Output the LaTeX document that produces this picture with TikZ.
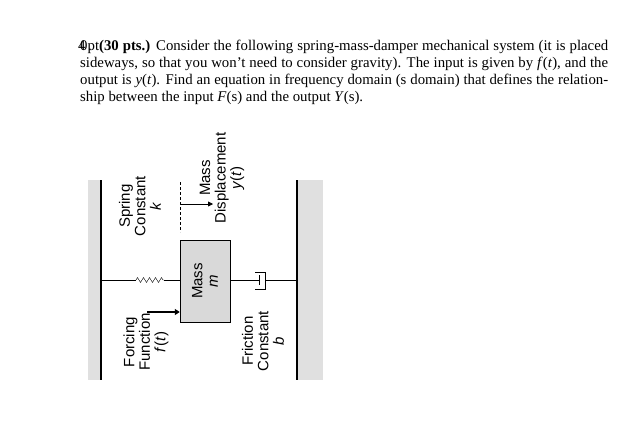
\documentclass[tikz,border=0pt]{standalone}
\usepackage{fontspec}
\setmainfont{Liberation Serif}
\newfontfamily\lab{Liberation Sans}
\usetikzlibrary{decorations.pathmorphing,arrows.meta}
\begin{document}
\begin{tikzpicture}[x=1pt,y=-1pt,
  lbl/.style={font=\lab\fontsize{15}{15.5}\selectfont,align=center,rotate=90,inner sep=0},
  wall/.style={fill=black!12,draw=none}]
\useasboundingbox (0,0) rectangle (642,426);
\node[anchor=north west,text width=528pt,align=justify,inner sep=0,font=\fontsize{14.8}{17}\selectfont\hyphenpenalty=10000\tolerance=9999] (q) at (80,40)
{\llap{4\,.\ \ }\textbf{(30 pts.)} Consider the following spring-mass-damper mechanical system (it is placed sideways, so that you won't need to consider gravity). The input is given by \textit{f}(\textit{t}), and the output is \textit{y}(\textit{t}). Find an equation in frequency domain (s domain) that defines the relationship between the input \textit{F}(s) and the output \textit{Y}(s).};
\fill[wall] (88,180) rectangle (101,380);
\fill[wall] (297,180) rectangle (323,380);
\draw[line width=1.2pt] (101,180) -- (101,380);
\draw[line width=1.2pt] (297,180) -- (297,380);
\node[draw,fill=black!15,minimum width=50pt,minimum height=82pt,inner sep=0] (m) at (205,281) {};
\node[lbl] (mt) at (m) {Mass\\\textit{m}};
\coordinate (s0) at (101,280);
\coordinate (s1) at (136,280);
\coordinate (s2) at (164,280);
\draw (s0) -- (s1);
\draw[decorate,decoration={zigzag,segment length=6pt,amplitude=2.5pt}] (s1) -- (s2);
\draw (s2) -- (m.west |- s2);
\coordinate (d1) at (259,280);
\draw (m.east |- d1) -- (d1);
\draw (d1) ++(0,-5) -- ++(0,10);
\draw (255,272) -- (265,272) -- (265,289) -- (255,289);
\draw (265,280) -- (297,280);
\coordinate (f0) at (147,312);
\draw[line width=2pt,-{Triangle[length=5pt,width=6pt]}] (f0) -- (m.west |- f0);
\coordinate (y0) at (180,182);
\coordinate (y1) at (180,232);
\draw[densely dashed,thick] (y0) -- (y1);
\coordinate (y2) at (180,204);
\coordinate (y3) at (213,204);
\draw[thick,-{Triangle[length=5pt,width=5pt]}] (y2) -- (y3);
\node[lbl] (sp) at (140,206) {Spring\\Constant\\\textit{k}};
\node[lbl] (fo) at (146,342) {Forcing\\Function\\\textit{f}(\textit{t})};
\node[lbl] (md) at (222,178) {Mass\\Displacement\\\textit{y}(\textit{t})};
\node[lbl] (fr) at (263,341) {Friction\\Constant\\\textit{b}};
\end{tikzpicture}
\end{document}
